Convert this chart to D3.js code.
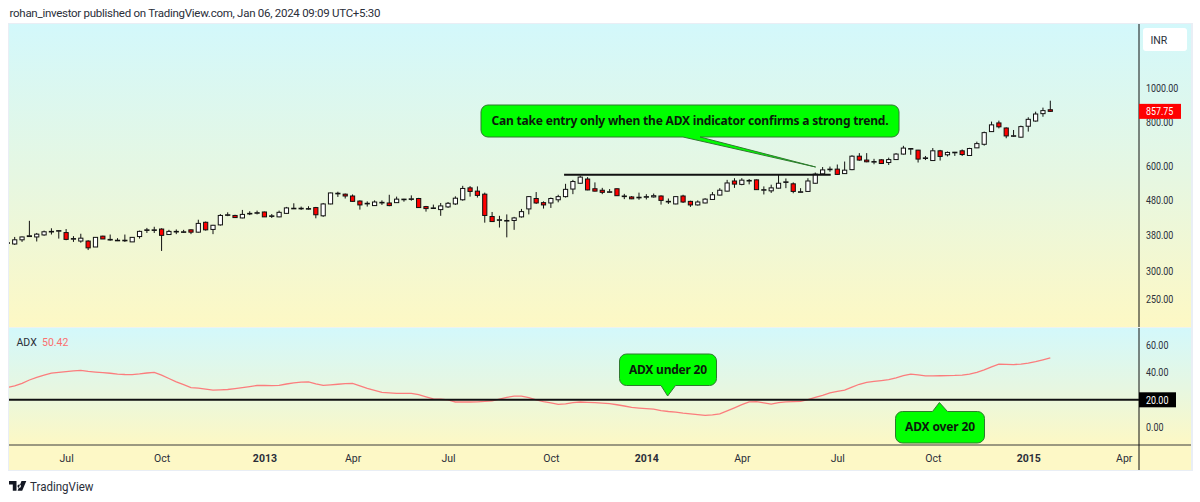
<!DOCTYPE html>
<html>
<head>
<title>ADX chart</title>
<script src="https://cdn.jsdelivr.net/npm/d3@7"></script>
<style>
    body {margin: 0; background-color: white;}
    text {font-family: Roboto, sans-serif; fill: #2a2e39;}
    .note {font-family: "Noto Sans", sans-serif; font-weight: bold; font-size: 12px; fill: #0b1a0b;}
</style>
</head>
<body>
<svg id="chart" width="1200" height="502"></svg>
<script>
// weekly candles, first one is cut by the left edge of the pane
var opens = [362,
    359,369,377,376,381,389,391,387,371,366,
    366,352,378,369,367,367,364,377,393,393,
    396,382,389,388,394,388,414,395,407,434,
    433,426,438,440,443,431,429,439,453,453,
    453,456,432,467,500,498,492,476,468,462,
    471,470,471,481,482,484,459,454,450,458,
    467,480,519,508,498,430,420,418,419,429,
    452,484,471,470,480,490,515,535,550,516,
    511,505,516,491,489,487,489,489,492,474,
    467,492,475,464,470,481,495,508,543,531,
    544,547,512,509,518,539,533,505,507,535,
    569,586,587,570,585,639,623,616,624,613,
    625,648,671,665,631,621,662,645,656,662,
    642,675,691,751,795,769,730,724,778,805,
    845,867]
var highs = [363,
    376,377,418,386,392,398,392,396,378,384,
    368,375,379,382,373,382,375,392,399,402,
    398,394,395,394,395,421,416,407,437,442,
    435,449,445,447,444,437,447,458,469,459,
    460,458,470,503,506,500,497,478,475,478,
    478,496,490,483,494,486,461,465,470,473,
    491,526,525,524,503,443,432,436,429,452,
    492,505,475,487,496,533,547,562,557,538,
    519,515,517,499,492,503,498,500,494,484,
    490,496,477,478,485,505,518,547,553,553,
    550,548,524,530,568,552,538,518,553,574,
    595,597,605,617,643,652,652,628,627,633,
    652,684,673,666,640,674,666,659,657,668,
    675,703,751,802,807,772,759,781,825,856,
    879,920]
var lows = [361,
    357,364,377,365,379,382,372,368,364,362,
    345,352,371,367,366,364,364,372,386,386,
    343,381,383,386,383,387,392,383,405,431,
    426,425,434,436,429,426,428,438,452,449,
    450,425,429,466,489,484,474,450,459,461,
    464,460,470,474,477,455,444,452,432,455,
    464,477,490,487,413,415,400,375,394,427,
    436,467,453,455,472,487,498,534,511,507,
    498,503,492,482,482,480,481,487,465,467,
    466,470,458,462,469,480,494,507,519,528,
    531,513,497,502,517,518,501,504,506,534,
    568,577,565,569,583,620,614,606,608,603,
    624,646,645,613,623,620,621,638,640,640,
    640,674,685,749,767,719,725,722,751,802,
    828,855]
var closes = [362,
    369,376,379,383,389,390,392,370,372,373,
    350,375,371,370,368,368,375,390,394,394,
    380,390,390,389,388,411,394,406,433,435,
    427,436,439,441,429,432,442,455,454,454,
    453,435,467,502,501,492,475,464,469,473,
    472,462,482,482,483,456,453,455,461,469,
    485,517,507,494,433,416,421,419,426,444,
    490,470,464,484,490,514,541,557,512,508,
    504,506,493,492,483,488,490,493,478,475,
    490,473,464,473,482,496,511,536,532,546,
    545,513,513,519,535,540,507,506,543,568,
    584,587,567,583,639,623,616,617,609,625,
    648,674,672,627,632,662,638,655,656,646,
    672,694,746,785,775,730,731,776,814,843,
    862,857.75]
var adx = [29,
    30.2,32,34.4,36.3,38,39.4,40,40.5,41,41.4,
    40.7,40.2,39.8,39.3,38.7,38.4,38.3,38.8,39.5,40,
    38,35.5,33,31,28.9,28.5,27.8,27,27.2,27.5,
    28.1,28.8,29.6,30.4,30.4,30.3,30.5,31.5,32.3,32.8,
    33,31.6,30.5,30.9,31.3,31.8,31.9,30.2,28.3,26.9,
    25.4,25,24.7,24.7,24.7,23.7,22.2,20.6,20.4,19.9,
    18.4,18.4,18.4,18.5,18.8,19.3,20.5,21.8,22.7,22.7,
    21.6,19.9,18.7,17.7,16.7,17.1,17.9,18.4,18.2,17.9,
    17.6,17.2,16.4,15.5,14.5,14,13.6,13.2,12.2,11.5,
    11,10.3,9.8,9.2,8.7,9,9.7,12,14.2,16.5,
    18.5,18.6,17.8,16.9,17.9,18.5,18.7,18.9,20.1,21.8,
    23.3,25,26.2,27,29.2,31.3,32.7,33.4,34,34.7,
    36,37.5,38.7,38.2,37.4,37.4,37.5,37.6,37.7,38,
    38.6,40,41.7,44,46,45.8,45.6,46,46.6,47.7,
    49,50.42]

var timeTickWeeks = [8,21,35,47,60,74,87,100,113,126,139,152]
var timeTickNames = ["Jul","Oct","2013","Apr","Jul","Oct","2014","Apr","Jul","Oct","2015","Apr"]
var priceTicks = [1000,800,600,480,380,300,250]
var adxTicks = [60,40,0]
var lastPrice = 857.75
var lastAdx = 50.42
var adxLevel = 20
var resistance = 566
var resistanceWeeks = [75.8, 112.1]

var svg = d3.select("#chart")
var left = 9, right = 1192, axisX = 1139
var mainTop = 24, mainBottom = 328, adxBottom = 445, bottom = 470

var x = d3.scaleLinear().domain([0, 142]).range([7.355, 1050.3])
var yPrice = d3.scaleLog().domain([1000, 250]).range([88, 299.1])
var yAdx = d3.scaleLinear().domain([0, 60]).range([427.3, 344.8])

// narrow axis numbers, the reference font is tighter than Roboto
function numWidth(s) {
    return (s.length - 1) * 4.95 + 2.6
}

// backgrounds
var defs = svg.append("defs")
var grad = defs.append("linearGradient").attr("id", "bg").attr("x1", 0).attr("x2", 0).attr("y1", 0).attr("y2", 1)
grad.append("stop").attr("offset", "0%").attr("stop-color", "#d3f8fb")
grad.append("stop").attr("offset", "50%").attr("stop-color", "#e6f7e2")
grad.append("stop").attr("offset", "100%").attr("stop-color", "#fdf8c4")
defs.append("clipPath").attr("id", "pane").append("rect")
    .attr("x", left).attr("y", mainTop).attr("width", axisX - left).attr("height", adxBottom - mainTop)

svg.append("rect").attr("x", left - 1).attr("y", mainTop - 1).attr("width", right - left + 2).attr("height", bottom - mainTop + 2).attr("fill", "#e9eef5")
svg.append("rect").attr("x", left).attr("y", mainTop).attr("width", right - left - 1).attr("height", mainBottom - mainTop).attr("fill", "url(#bg)")
svg.append("rect").attr("x", left).attr("y", mainBottom).attr("width", right - left - 1).attr("height", adxBottom - mainBottom).attr("fill", "url(#bg)")
svg.append("rect").attr("x", left).attr("y", adxBottom).attr("width", right - left - 1).attr("height", bottom - adxBottom).attr("fill", "#fdf8c6")

svg.append("line").attr("x1", left).attr("x2", right - 1).attr("y1", adxBottom).attr("y2", adxBottom).attr("stroke", "#3a3a3a")
svg.append("line").attr("x1", axisX).attr("x2", axisX).attr("y1", mainTop).attr("y2", bottom).attr("stroke", "#111")
svg.append("line").attr("x1", left).attr("x2", right - 1).attr("y1", mainBottom - 0.5).attr("y2", mainBottom - 0.5).attr("stroke", "#eef3ee")

// candles
var plot = svg.append("g").attr("clip-path", "url(#pane)")
var candles = plot.selectAll(".candle").data(opens).enter().append("g").attr("class", "candle")
candles.append("line")
    .attr("x1", (d, i) => x(i)).attr("x2", (d, i) => x(i))
    .attr("y1", (d, i) => yPrice(highs[i])).attr("y2", (d, i) => yPrice(lows[i]))
    .attr("stroke", "#111")
candles.append("rect")
    .attr("x", (d, i) => x(i) - 2.1)
    .attr("width", 4.2)
    .attr("y", (d, i) => yPrice(Math.max(opens[i], closes[i])))
    .attr("height", (d, i) => Math.max(0.6, Math.abs(yPrice(opens[i]) - yPrice(closes[i]))))
    .attr("fill", (d, i) => closes[i] < opens[i] ? "#ff0000" : "#ffffff")
    .attr("stroke", "#111")

// horizontal resistance line
plot.append("line")
    .attr("x1", x(resistanceWeeks[0])).attr("x2", x(resistanceWeeks[1]))
    .attr("y1", yPrice(resistance)).attr("y2", yPrice(resistance))
    .attr("stroke", "#111").attr("stroke-width", 2)

// adx pane
var adxLine = d3.line().x((d, i) => x(i)).y(d => yAdx(d))
plot.append("path").attr("d", adxLine(adx)).attr("fill", "none").attr("stroke", "#fb7d7d").attr("stroke-width", 1.3)
plot.append("line").attr("x1", left).attr("x2", axisX)
    .attr("y1", yAdx(adxLevel)).attr("y2", yAdx(adxLevel))
    .attr("stroke", "#111").attr("stroke-width", 2)

svg.append("text").attr("x", 16.5).attr("y", 345.5).attr("font-size", 10.5).text("ADX")
svg.append("text").attr("x", 42).attr("y", 345.5).attr("font-size", 10.5).style("fill", "#fb6f6f").text(d3.format(".2f")(lastAdx))

// axes
var priceAxis = d3.axisRight(yPrice).tickValues(priceTicks).tickSize(0).tickPadding(7).tickFormat(d3.format(".2f"))
var priceG = svg.append("g").attr("class", "axis").attr("transform", "translate(" + axisX + ",0)").call(priceAxis)
var adxAxis = d3.axisRight(yAdx).tickValues(adxTicks).tickSize(0).tickPadding(7).tickFormat(d3.format(".2f"))
var adxG = svg.append("g").attr("class", "axis").attr("transform", "translate(" + axisX + ",0)").call(adxAxis)
var timeAxis = d3.axisBottom(x).tickValues(timeTickWeeks).tickSize(0).tickPadding(9.5)
    .tickFormat((d, i) => timeTickNames[i])
svg.append("g").attr("class", "axis").attr("transform", "translate(0," + adxBottom + ")").call(timeAxis)
svg.selectAll(".axis .domain").remove()
svg.selectAll(".axis text").attr("font-family", "Roboto, sans-serif").attr("font-size", 10.5)
priceG.selectAll("text").attr("font-size", 11).attr("lengthAdjust", "spacingAndGlyphs")
    .attr("textLength", function () { return numWidth(d3.select(this).text()) })
adxG.selectAll("text").attr("font-size", 11).attr("lengthAdjust", "spacingAndGlyphs")
    .attr("textLength", function () { return numWidth(d3.select(this).text()) })
svg.selectAll(".axis .tick text").filter(function () { return /^20\d\d$/.test(d3.select(this).text()) })
    .attr("font-weight", "bold")

// price tags
function tag(y, w, color, label) {
    svg.append("rect").attr("x", axisX).attr("y", y - 7.5).attr("width", w).attr("height", 15).attr("fill", color)
    svg.append("text").attr("x", axisX + 7).attr("y", y + 3.8).attr("font-size", 11).style("fill", "white")
        .attr("lengthAdjust", "spacingAndGlyphs").attr("textLength", numWidth(label)).text(label)
}
tag(yPrice(lastPrice), 42, "#ff0000", d3.format(".2f")(lastPrice))
tag(yAdx(adxLevel), 37, "#000000", d3.format(".2f")(adxLevel))

svg.append("rect").attr("x", 1143).attr("y", 28).attr("width", 44).attr("height", 23).attr("rx", 3).attr("fill", "white")
svg.append("text").attr("x", 1150.5).attr("y", 44).attr("font-size", 10.5).text("INR")

// callouts
function callout(box, tip, base, label, textW) {
    var r = 7, path = d3.path()
    path.moveTo(box.x0 + r, box.y0)
    if (base.side == "top") { path.lineTo(base.a, box.y0); path.lineTo(tip.x, tip.y); path.lineTo(base.b, box.y0) }
    path.lineTo(box.x1 - r, box.y0)
    path.arcTo(box.x1, box.y0, box.x1, box.y0 + r, r)
    path.lineTo(box.x1, box.y1 - r)
    path.arcTo(box.x1, box.y1, box.x1 - r, box.y1, r)
    if (base.side == "bottom") { path.lineTo(base.b, box.y1); path.lineTo(tip.x, tip.y); path.lineTo(base.a, box.y1) }
    path.lineTo(box.x0 + r, box.y1)
    path.arcTo(box.x0, box.y1, box.x0, box.y1 - r, r)
    path.lineTo(box.x0, box.y0 + r)
    path.arcTo(box.x0, box.y0, box.x0 + r, box.y0, r)
    path.closePath()
    svg.append("path").attr("d", path.toString()).attr("fill", "#00ff00").attr("stroke", "#2f7a2f").attr("stroke-width", 1)
    svg.append("text").attr("class", "note")
        .attr("x", (box.x0 + box.x1) / 2).attr("y", (box.y0 + box.y1) / 2 + 4.2)
        .attr("text-anchor", "middle").attr("textLength", textW).attr("lengthAdjust", "spacing")
        .text(label)
}
callout({x0: 481, x1: 899, y0: 105, y1: 137}, {x: x(110.05), y: 167}, {side: "bottom", a: 683, b: 700},
    "Can take entry only when the ADX indicator confirms a strong trend.", 397)
callout({x0: 619.5, x1: 716.5, y0: 354, y1: 385.5}, {x: x(89.9), y: 396}, {side: "bottom", a: 661, b: 675.5},
    "ADX under 20", 78)
callout({x0: 895.5, x1: 984.5, y0: 411.5, y1: 443}, {x: x(126.9), y: 402.5}, {side: "top", a: 932.5, b: 947.5},
    "ADX over 20", 70)

// header and footer
svg.append("text").attr("x", 9.5).attr("y", 16.5).attr("font-size", 11.5)
    .attr("textLength", 371).attr("lengthAdjust", "spacing")
    .text("rohan_investor published on TradingView.com, Jan 06, 2024 09:09 UTC+5:30")
svg.append("path").attr("transform", "translate(9,481)").attr("fill", "#131722")
    .attr("d", "M0 0H7.5V9.8H3.8V3.6H0Z M10.2 3.4a1.7 1.7 0 1 0 0.01 0Z M12.5 0H17.3L13.2 9.8H8.6Z")
svg.append("text").attr("x", 30).attr("y", 490.7).attr("font-size", 12.5)
    .attr("textLength", 63.5).attr("lengthAdjust", "spacingAndGlyphs").text("TradingView")
</script>
</body>
</html>
